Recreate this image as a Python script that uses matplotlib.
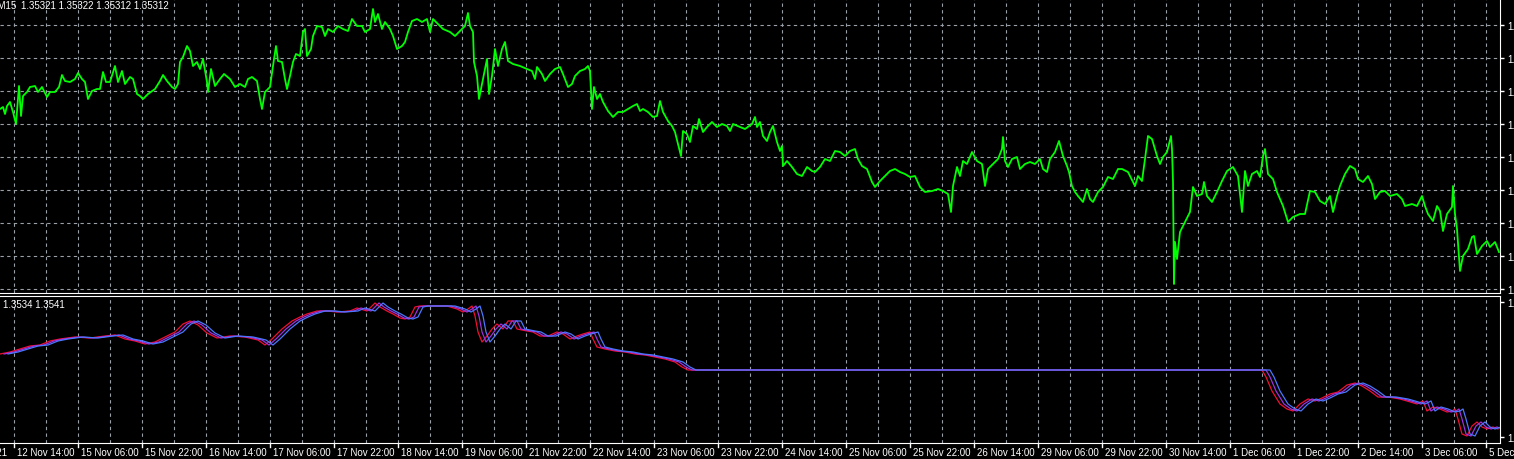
import matplotlib
matplotlib.use("Agg")
import matplotlib.pyplot as plt
import numpy as np

# ---- main price line (M15 bars, bar index -> close) ----
main_x = [
    0, 3, 5, 7, 10, 13, 16, 18, 19, 21, 23, 27, 30, 35, 38, 42, 47, 50, 55, 59,
    62, 65, 70, 75, 78, 82, 85, 88, 92, 97, 100, 103, 106, 110, 115, 118, 122, 125, 130, 133,
    137, 140, 143, 148, 155, 160, 163, 167, 172, 175, 178, 180, 183, 187, 190, 193, 197, 200, 203, 207,
    208, 211, 215, 220, 224, 230, 235, 240, 245, 248, 252, 257, 260, 262, 265, 270, 273, 276, 278, 282,
    285, 287, 290, 293, 296, 300, 303, 305, 307, 311, 313, 317, 322, 325, 328, 333, 338, 343, 348, 352,
    357, 362, 365, 370, 373, 375, 378, 382, 385, 390, 393, 397, 402, 405, 408, 412, 417, 422, 427, 430,
    433, 438, 443, 450, 455, 460, 465, 468, 470, 473, 474, 477, 479, 483, 487, 489, 492, 495, 498, 502,
    505, 508, 513, 520, 527, 532, 535, 537, 542, 545, 550, 555, 560, 563, 568, 572, 575, 580, 585, 588,
    590, 592, 594, 597, 600, 603, 608, 613, 618, 623, 628, 633, 637, 640, 643, 648, 653, 657, 660, 663,
    668, 672, 675, 678, 681, 683, 687, 690, 693, 697, 699, 703, 707, 712, 717, 722, 727, 730, 733, 740,
    745, 752, 755, 757, 760, 763, 767, 770, 773, 777, 780, 782, 783, 787, 792, 797, 802, 807, 812, 815,
    820, 825, 830, 835, 840, 845, 850, 855, 858, 862, 867, 872, 875, 880, 885, 890, 895, 900, 905, 910,
    915, 920, 925, 932, 938, 943, 948, 951, 953, 957, 960, 963, 967, 972, 977, 982, 985, 988, 993, 998,
    1002, 1003, 1005, 1008, 1012, 1017, 1020, 1025, 1030, 1035, 1040, 1043, 1047, 1050, 1055, 1059, 1063, 1067, 1069, 1072,
    1075, 1078, 1083, 1087, 1090, 1093, 1098, 1103, 1108, 1113, 1118, 1122, 1128, 1135, 1138, 1142, 1145, 1148, 1152, 1157,
    1160, 1163, 1167, 1171, 1172, 1173, 1174, 1175, 1177, 1180, 1185, 1190, 1193, 1197, 1202, 1204, 1207, 1212, 1217, 1222,
    1227, 1233, 1238, 1242, 1245, 1248, 1252, 1257, 1260, 1263, 1265, 1268, 1273, 1277, 1280, 1283, 1288, 1293, 1300, 1305,
    1310, 1315, 1320, 1325, 1330, 1333, 1337, 1340, 1345, 1350, 1355, 1358, 1363, 1368, 1372, 1375, 1380, 1385, 1390, 1397,
    1402, 1405, 1412, 1417, 1422, 1425, 1428, 1433, 1437, 1440, 1443, 1447, 1452, 1453, 1455, 1457, 1460, 1463, 1468, 1472,
    1474, 1477, 1482, 1487, 1490, 1495, 1499,
]
main_close = [
    1.35740, 1.35746, 1.35725, 1.35749, 1.35761, 1.35731, 1.35695, 1.35770, 1.35809, 1.35719,
    1.35779, 1.35791, 1.35806, 1.35809, 1.35791, 1.35806, 1.35776, 1.35791, 1.35791, 1.35806,
    1.35842, 1.35824, 1.35821, 1.35830, 1.35848, 1.35830, 1.35821, 1.35770, 1.35794, 1.35800,
    1.35800, 1.35851, 1.35821, 1.35821, 1.35869, 1.35821, 1.35854, 1.35815, 1.35836, 1.35830,
    1.35785, 1.35779, 1.35770, 1.35785, 1.35800, 1.35824, 1.35842, 1.35824, 1.35806, 1.35800,
    1.35815, 1.35881, 1.35896, 1.35929, 1.35914, 1.35869, 1.35881, 1.35860, 1.35890, 1.35821,
    1.35791, 1.35860, 1.35809, 1.35830, 1.35845, 1.35830, 1.35806, 1.35815, 1.35806, 1.35830,
    1.35836, 1.35824, 1.35770, 1.35740, 1.35791, 1.35806, 1.35869, 1.35929, 1.35884, 1.35881,
    1.35830, 1.35800, 1.35839, 1.35881, 1.35905, 1.35899, 1.35971, 1.35980, 1.35899, 1.35920,
    1.35959, 1.35989, 1.35986, 1.35959, 1.35980, 1.35971, 1.35989, 1.35980, 1.35974, 1.36010,
    1.35989, 1.35989, 1.35971, 1.35980, 1.36040, 1.36001, 1.36025, 1.35980, 1.36001, 1.35980,
    1.35959, 1.35920, 1.35929, 1.35941, 1.35971, 1.36004, 1.36010, 1.36001, 1.36010, 1.35971,
    1.36010, 1.35995, 1.35980, 1.35971, 1.35959, 1.35974, 1.35989, 1.36028, 1.35989, 1.35971,
    1.35881, 1.35839, 1.35770, 1.35830, 1.35890, 1.35785, 1.35839, 1.35920, 1.35869, 1.35920,
    1.35941, 1.35884, 1.35875, 1.35869, 1.35860, 1.35854, 1.35830, 1.35866, 1.35845, 1.35824,
    1.35845, 1.35860, 1.35866, 1.35845, 1.35806, 1.35815, 1.35839, 1.35854, 1.35860, 1.35869,
    1.35854, 1.35740, 1.35806, 1.35770, 1.35785, 1.35761, 1.35734, 1.35716, 1.35731, 1.35731,
    1.35740, 1.35749, 1.35755, 1.35734, 1.35740, 1.35731, 1.35716, 1.35719, 1.35764, 1.35731,
    1.35704, 1.35689, 1.35671, 1.35635, 1.35599, 1.35674, 1.35665, 1.35641, 1.35689, 1.35680,
    1.35710, 1.35671, 1.35686, 1.35701, 1.35686, 1.35695, 1.35689, 1.35674, 1.35695, 1.35686,
    1.35680, 1.35695, 1.35716, 1.35686, 1.35701, 1.35659, 1.35644, 1.35671, 1.35689, 1.35641,
    1.35614, 1.35629, 1.35569, 1.35584, 1.35566, 1.35545, 1.35539, 1.35566, 1.35554, 1.35551,
    1.35566, 1.35590, 1.35584, 1.35614, 1.35611, 1.35599, 1.35614, 1.35620, 1.35590, 1.35569,
    1.35560, 1.35521, 1.35506, 1.35524, 1.35539, 1.35554, 1.35560, 1.35551, 1.35545, 1.35536,
    1.35539, 1.35506, 1.35491, 1.35494, 1.35500, 1.35494, 1.35485, 1.35431, 1.35509, 1.35566,
    1.35539, 1.35584, 1.35575, 1.35611, 1.35584, 1.35575, 1.35509, 1.35560, 1.35575, 1.35590,
    1.35620, 1.35656, 1.35584, 1.35566, 1.35590, 1.35596, 1.35560, 1.35575, 1.35581, 1.35575,
    1.35590, 1.35560, 1.35551, 1.35590, 1.35611, 1.35644, 1.35599, 1.35569, 1.35551, 1.35509,
    1.35491, 1.35479, 1.35461, 1.35500, 1.35470, 1.35461, 1.35491, 1.35506, 1.35536, 1.35530,
    1.35560, 1.35560, 1.35551, 1.35509, 1.35539, 1.35524, 1.35590, 1.35659, 1.35650, 1.35599,
    1.35575, 1.35596, 1.35611, 1.35659, 1.35620, 1.35521, 1.35215, 1.35341, 1.35290, 1.35371,
    1.35401, 1.35431, 1.35506, 1.35479, 1.35485, 1.35521, 1.35479, 1.35461, 1.35491, 1.35524,
    1.35554, 1.35566, 1.35539, 1.35431, 1.35554, 1.35509, 1.35545, 1.35554, 1.35536, 1.35599,
    1.35620, 1.35545, 1.35530, 1.35491, 1.35470, 1.35449, 1.35401, 1.35416, 1.35425, 1.35425,
    1.35494, 1.35491, 1.35464, 1.35455, 1.35479, 1.35431, 1.35479, 1.35509, 1.35545, 1.35569,
    1.35560, 1.35530, 1.35521, 1.35539, 1.35515, 1.35470, 1.35491, 1.35494, 1.35479, 1.35485,
    1.35470, 1.35449, 1.35455, 1.35449, 1.35479, 1.35449, 1.35425, 1.35404, 1.35449, 1.35434,
    1.35374, 1.35425, 1.35446, 1.35509, 1.35425, 1.35380, 1.35254, 1.35299, 1.35320, 1.35356,
    1.35359, 1.35305, 1.35329, 1.35344, 1.35326, 1.35341, 1.35311,
]

# ---- indicator sub-window (three lagged lines) ----
ind_x = [
    0, 10, 20, 30, 40, 50, 60, 75, 90, 105, 115, 125, 135, 145, 155, 165, 175, 183, 190, 198,
    207, 217, 230, 245, 258, 265, 272, 282, 292, 300, 307, 317, 327, 337, 350, 357, 367, 372, 375, 380,
    387, 393, 400, 405, 410, 415, 420, 433, 447, 457, 463, 468, 472, 475, 478, 482, 487, 492, 497, 503,
    508, 513, 517, 527, 533, 540, 548, 557, 563, 570, 577, 583, 590, 593, 597, 605, 615, 625, 635, 645,
    655, 665, 675, 682, 688, 1262, 1266, 1272, 1280, 1287, 1293, 1300, 1308, 1315, 1322, 1330, 1338, 1347, 1355, 1362,
    1370, 1378, 1388, 1400, 1407, 1417, 1423, 1427, 1433, 1440, 1447, 1452, 1455, 1458, 1462, 1467, 1472, 1477, 1482, 1487,
    1493, 1498,
]
ind_value = [
    1.35715, 1.35725, 1.35740, 1.35755, 1.35760, 1.35780, 1.35790, 1.35800, 1.35795, 1.35805,
    1.35810, 1.35790, 1.35780, 1.35765, 1.35775, 1.35800, 1.35825, 1.35865, 1.35880, 1.35860,
    1.35820, 1.35795, 1.35805, 1.35800, 1.35785, 1.35760, 1.35790, 1.35840, 1.35880, 1.35900,
    1.35915, 1.35930, 1.35930, 1.35925, 1.35930, 1.35945, 1.35930, 1.35955, 1.35970, 1.35950,
    1.35930, 1.35915, 1.35895, 1.35890, 1.35900, 1.35950, 1.35955, 1.35955, 1.35955, 1.35940,
    1.35925, 1.35940, 1.35955, 1.35905, 1.35825, 1.35775, 1.35805, 1.35840, 1.35865, 1.35840,
    1.35880, 1.35880, 1.35840, 1.35830, 1.35825, 1.35805, 1.35805, 1.35825, 1.35815, 1.35790,
    1.35805, 1.35815, 1.35825, 1.35790, 1.35750, 1.35740, 1.35730, 1.35725, 1.35715, 1.35710,
    1.35700, 1.35690, 1.35675, 1.35650, 1.35635, 1.35635, 1.35600, 1.35530, 1.35465, 1.35440,
    1.35430, 1.35465, 1.35490, 1.35480, 1.35495, 1.35515, 1.35525, 1.35560, 1.35570, 1.35555,
    1.35530, 1.35500, 1.35500, 1.35490, 1.35480, 1.35465, 1.35480, 1.35430, 1.35450, 1.35440,
    1.35425, 1.35430, 1.35440, 1.35390, 1.35315, 1.35305, 1.35355, 1.35375, 1.35350, 1.35340,
    1.35350, 1.35340,
]
ind_shift = [0, 4, 8]  # bars
ind_colors = ["#f01030", "#a030e0", "#4a78ff"]

# ---- time axis ----
tick_bars = [14 + 64 * i for i in range(24)]
tick_labels = [
    "12 Nov 14:00", "15 Nov 06:00", "15 Nov 22:00", "16 Nov 14:00", "17 Nov 06:00",
    "17 Nov 22:00", "18 Nov 14:00", "19 Nov 06:00", "21 Nov 22:00", "22 Nov 14:00",
    "23 Nov 06:00", "23 Nov 22:00", "24 Nov 14:00", "25 Nov 06:00", "25 Nov 22:00",
    "26 Nov 14:00", "29 Nov 06:00", "29 Nov 22:00", "30 Nov 14:00", "1 Dec 06:00",
    "1 Dec 22:00", "2 Dec 14:00", "3 Dec 06:00", "5 Dec 22:00",
]

W, H = 1514, 460
BG = "black"
GRID = "#9aa0a8"
FONT = "Liberation Sans"


def style_axes(ax):
    ax.set_facecolor(BG)
    for side in ["left", "top"]:
        ax.spines[side].set_visible(False)
    for side in ["right", "bottom"]:
        ax.spines[side].set_color("white")
        ax.spines[side].set_linewidth(0.8)
    ax.set_xlim(0, 1500)
    ax.set_xticks([14 + 32 * i for i in range(47)], minor=False)
    ax.xaxis.grid(True, color=GRID, linestyle=(0, (3, 3)), linewidth=0.8)
    ax.yaxis.tick_right()
    ax.tick_params(axis="y", colors="white", length=3, width=1, pad=2,
                   labelsize=7)
    ax.tick_params(axis="x", length=0, labelbottom=False)


fig = plt.figure(figsize=(W / 100, H / 100), dpi=100, facecolor=BG)

# main window
ax1 = fig.add_axes([0, (H - 294) / H, 1500 / W, 294 / H])
style_axes(ax1)
ax1.set_ylim(1.35188, 1.36070)
ygrid = np.arange(1.35200, 1.36000, 0.00099)
ax1.set_yticks(ygrid)
ax1.set_yticklabels([f"{v:.5f}" for v in ygrid])
for lab in ax1.get_yticklabels():
    lab.set_fontfamily(FONT)
ax1.yaxis.grid(True, color=GRID, linestyle=(0, (3, 3)), linewidth=0.8)
ax1.plot(main_x, main_close, color="#00ff00", linewidth=1.3, zorder=3)
ax1.text(17, 1.0 - 1 / 294, "GBPUSD,M15", transform=ax1.get_xaxis_transform(),
         color="white", fontsize=7, family=FONT, ha="right", va="top")
ax1.text(21, 1.0 - 1 / 294, "1.35321 1.35322 1.35312 1.35312",
         transform=ax1.get_xaxis_transform(), color="white", fontsize=7,
         family=FONT, ha="left", va="top")

# indicator window
ax2 = fig.add_axes([0, (H - 444) / H, 1500 / W, 147 / H])
style_axes(ax2)
ax2.spines["top"].set_visible(True)
ax2.spines["top"].set_color("white")
ax2.spines["top"].set_linewidth(0.8)
ax2.set_ylim(1.35270, 1.36005)
ax2.set_yticks([1.35300, 1.35975])
ax2.set_yticklabels(["1.3530", "1.3598"])
for lab in ax2.get_yticklabels():
    lab.set_fontfamily(FONT)
for shift, col in zip(ind_shift, ind_colors):
    ax2.plot([b + shift for b in ind_x], ind_value, color=col, linewidth=0.9,
             zorder=3)
ax2.text(3, 1.0 - 3 / 147, "1.3534 1.3541", transform=ax2.get_xaxis_transform(),
         color="white", fontsize=7, family=FONT, ha="left", va="top")

# time labels under the indicator window
for b, lab in zip(tick_bars, tick_labels):
    ax2.plot([b, b], [0, -4 / 147], transform=ax2.get_xaxis_transform(),
             color="white", linewidth=1, clip_on=False)
    ax2.text(b + 3, -4 / 147, lab, transform=ax2.get_xaxis_transform(),
             color="white", fontsize=7, family=FONT, ha="left", va="top",
             clip_on=False)
ax2.text(-47, -4 / 147, "11 Nov 2021", transform=ax2.get_xaxis_transform(),
         color="white", fontsize=7, family=FONT, ha="left", va="top",
         clip_on=False)

fig.savefig("out.png", dpi=100, facecolor=BG)
